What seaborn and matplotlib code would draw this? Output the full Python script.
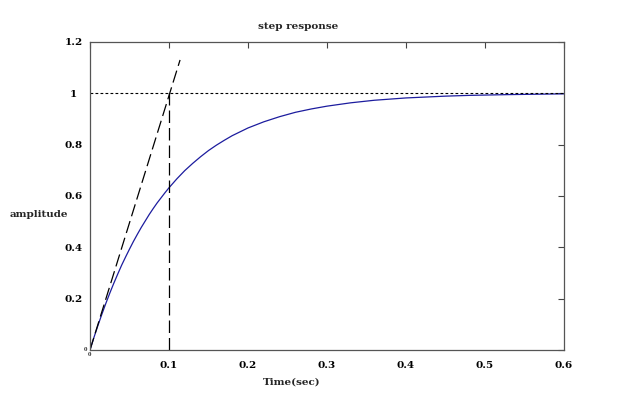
import matplotlib
matplotlib.use("Agg")
import matplotlib.pyplot as plt
import seaborn as sns
import pandas as pd

sns.set_style("white")
plt.rcParams['font.family'] = ['DejaVu Serif']

# step response
time_s = [0, 0.005, 0.01, 0.015, 0.02, 0.025, 0.03, 0.035, 0.04, 0.045, 0.05,
          0.055, 0.06, 0.065, 0.07, 0.075, 0.08, 0.085, 0.09, 0.095, 0.10,
          0.11, 0.12, 0.13, 0.14, 0.15, 0.16, 0.17, 0.18, 0.19, 0.20,
          0.22, 0.24, 0.26, 0.28, 0.30, 0.33, 0.36, 0.40, 0.45, 0.48,
          0.53, 0.60]
amplitude = [0, 0.049, 0.095, 0.139, 0.181, 0.221, 0.259, 0.295, 0.330, 0.362, 0.393,
             0.423, 0.451, 0.478, 0.503, 0.528, 0.551, 0.573, 0.593, 0.613, 0.632,
             0.667, 0.699, 0.727, 0.753, 0.777, 0.798, 0.817, 0.835, 0.850, 0.865,
             0.889, 0.909, 0.926, 0.939, 0.950, 0.963, 0.973, 0.982, 0.989, 0.992,
             0.995, 0.998]

# tangent at the origin and time-constant markers
tangent_t = [0, 0.114]
tangent_y = [0, 1.13]
tau_t = [0.1, 0.1]
tau_y = [0, 1.0]
final_t = [0, 0.6]
final_y = [1.0, 1.0]

xticks = [0, 0.1, 0.2, 0.3, 0.4, 0.5, 0.6]
xlabels = ["", "0.1", "0.2", "0.3", "0.4", "0.5", "0.6"]
yticks = [0, 0.2, 0.4, 0.6, 0.8, 1.0, 1.2]
ylabels = ["", "0.2", "0.4", "0.6", "0.8", "1", "1.2"]

df = pd.DataFrame({"t": time_s, "y": amplitude})

fig = plt.figure(figsize=(6.25, 3.95), dpi=100)
ax = fig.add_axes([0.144, 0.114, 0.7584, 0.7797])

sns.lineplot(data=df, x="t", y="y", ax=ax, color="#1c1c9e", linewidth=0.9)
ax.plot(tangent_t, tangent_y, color="black", linewidth=0.9, linestyle=(0, (10, 4)))
ax.plot(tau_t, tau_y, color="black", linewidth=0.9, linestyle=(0, (10, 4)))
ax.plot(final_t, final_y, color="black", linewidth=0.8, linestyle=(0, (2.5, 2)))

ax.set_xlim(0, 0.6)
ax.set_ylim(0, 1.2)
ax.set_xticks(xticks)
ax.set_xticklabels(xlabels)
ax.set_yticks(yticks)
ax.set_yticklabels(ylabels)
ax.tick_params(direction="in", length=4, width=0.8, top=True, right=True,
               labelsize=7.5, colors="#444444", labelcolor="black")
ax.tick_params(axis="y", pad=12)
ax.tick_params(axis="x", pad=8)
for lab in ax.get_xticklabels() + ax.get_yticklabels():
    lab.set_fontweight("bold")
for lab in ax.get_yticklabels():
    lab.set_horizontalalignment("center")

# the tiny zero labels sitting at the origin
ax.annotate("0", (0, 0), xytext=(-3.5, 0), textcoords="offset points",
            ha="center", va="center", fontsize=3.5, fontweight="bold")
ax.annotate("0", (0, 0), xytext=(-0.5, -3), textcoords="offset points",
            ha="center", va="center", fontsize=3.5, fontweight="bold",
            annotation_clip=False)

for sp in ax.spines.values():
    sp.set_color("#555555")
    sp.set_linewidth(0.9)

ax.set_xlabel("")
ax.set_ylabel("")
fig.text(0.477, 0.932, "step response", ha="center", va="center",
         fontsize=7.5, fontweight="bold")
fig.text(0.467, 0.033, "Time(sec)", ha="center", va="center",
         fontsize=7.5, fontweight="bold")
fig.text(0.062, 0.456, "amplitude", ha="center", va="center",
         fontsize=7.5, fontweight="bold")

fig.savefig("out.png", dpi=100)
